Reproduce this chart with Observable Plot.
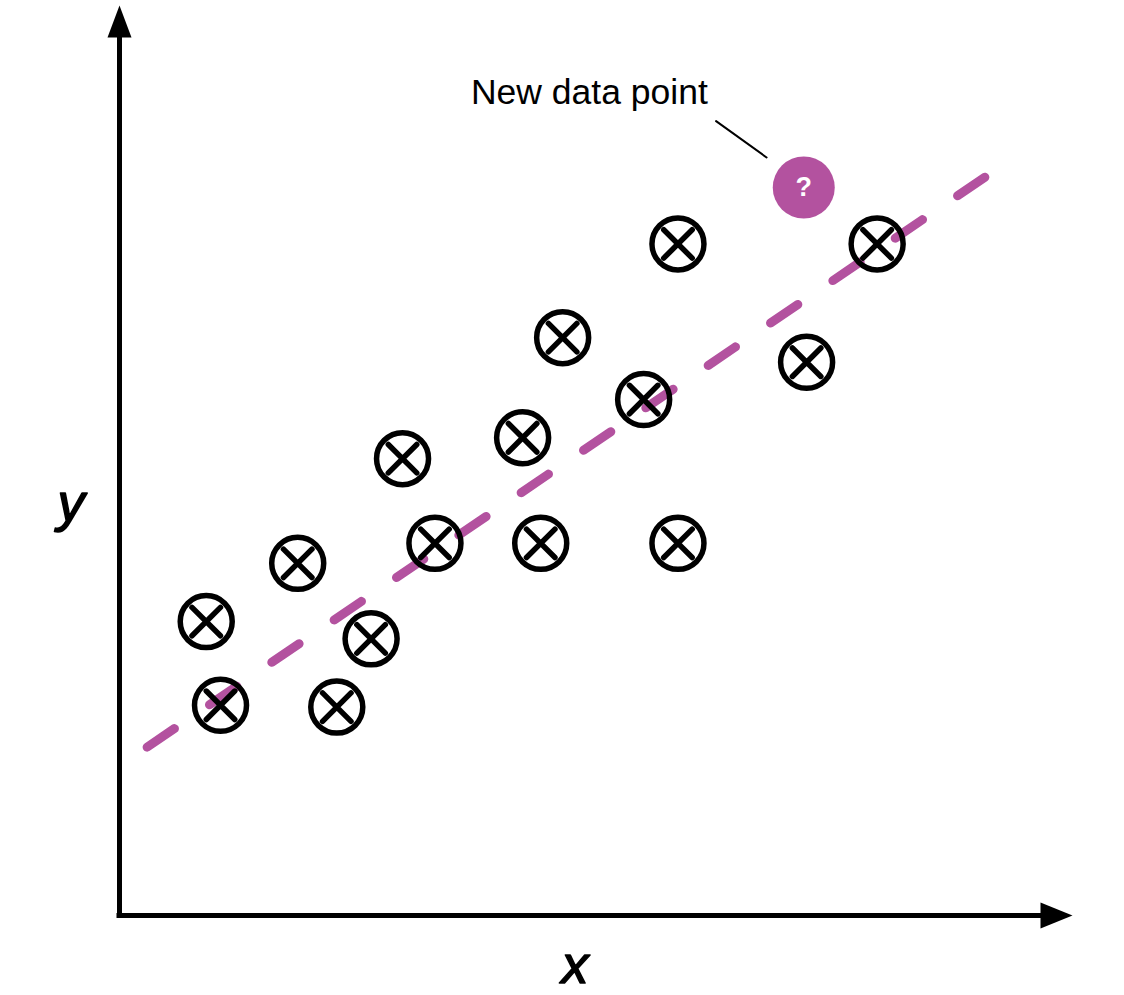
<!DOCTYPE html>
<html><head><meta charset="utf-8">
<script src="https://cdn.jsdelivr.net/npm/d3@7"></script>
<script src="https://cdn.jsdelivr.net/npm/@observablehq/plot@0.6"></script>
<style>html,body{margin:0;padding:0;background:#fff;} svg{display:block}</style>
</head><body><div id="chart"></div>
<script>
// observed data points
const pointX = [0.91, 1.06, 1.87, 2.28, 2.64, 2.97, 3.31, 4.23, 4.42, 4.65, 5.50, 5.86, 5.86, 7.21, 7.95];
const pointY = [3.23, 2.31, 3.87, 2.29, 3.04, 5.02, 4.09, 5.25, 4.09, 6.35, 5.67, 7.38, 4.09, 6.08, 7.38];
// new data point
const newPointX = [7.18];
const newPointY = [8.0];
const newPointLabel = ["?"];
// fitted regression line
const fitX = [0.29, 9.09];
const fitY = [1.85, 8.12];
// annotation
const annotationText = ["New data point"];
const annotationX = [4.93];
const annotationY = [8.92];
const leaderX = [6.26, 6.79];
const leaderY = [8.73, 8.33];
// axis labels
const axisLabelText = ["x", "y"];
const axisLabelX = [4.78, -0.51];
const axisLabelY = [-0.55, 4.52];
// axis extents
const axisMax = 10;

const magenta = "#b3529f";
const font = "'Liberation Sans', Arial, Helvetica, sans-serif";

const points = pointX.map((x, i) => ({x, y: pointY[i]}));
const newPoints = newPointX.map((x, i) => ({x, y: newPointY[i], label: newPointLabel[i]}));
const fit = fitX.map((x, i) => ({x, y: fitY[i]}));
const leader = leaderX.map((x, i) => ({x, y: leaderY[i]}));
const annotations = annotationText.map((t, i) => ({t, x: annotationX[i], y: annotationY[i]}));
const axisLabels = axisLabelText.map((t, i) => ({t, x: axisLabelX[i], y: axisLabelY[i]}));

const upHead = {draw(ctx) { ctx.moveTo(0, 0); ctx.lineTo(12, 32); ctx.lineTo(-12, 32); ctx.closePath(); }};
const rightHead = {draw(ctx) { ctx.moveTo(0, 0); ctx.lineTo(-32, 13); ctx.lineTo(-32, -13); ctx.closePath(); }};

const chart = Plot.plot({
  width: 1124,
  height: 995,
  marginLeft: 119,
  marginRight: 52,
  marginTop: 5,
  marginBottom: 80,
  x: {domain: [0, axisMax], axis: null},
  y: {domain: [0, axisMax], axis: null},
  style: {background: "#fff", overflow: "visible"},
  marks: [
    Plot.ruleX([0], {y1: 0, y2: axisMax * 0.98, stroke: "#000", strokeWidth: 5, strokeLinecap: "square"}),
    Plot.ruleY([0], {x1: 0, x2: axisMax * 0.98, stroke: "#000", strokeWidth: 5, strokeLinecap: "square"}),
    Plot.dot([{x: 0, y: axisMax}], {x: "x", y: "y", symbol: upHead, fill: "#000", stroke: "none", r: 10}),
    Plot.dot([{x: axisMax, y: 0}], {x: "x", y: "y", symbol: rightHead, fill: "#000", stroke: "none", r: 10}),
    Plot.line(fit, {x: "x", y: "y", stroke: magenta, strokeWidth: 9, strokeLinecap: "round", strokeDasharray: "33,42.4"}),
    Plot.dot(points, {x: "x", y: "y", r: 26, stroke: "#000", strokeWidth: 5.5, fill: "none"}),
    Plot.dot(points, {x: "x", y: "y", r: 13, symbol: "times", stroke: "#000", strokeWidth: 5.5, strokeLinecap: "round"}),
    Plot.dot(newPoints, {x: "x", y: "y", r: 31, fill: magenta, stroke: "none"}),
    Plot.text(newPoints, {x: "x", y: "y", text: "label", fill: "#fff", fontSize: 27, fontWeight: "bold", fontFamily: font}),
    Plot.line(leader, {x: "x", y: "y", stroke: "#000", strokeWidth: 2}),
    Plot.text(annotations, {x: "x", y: "y", text: "t", fontSize: 35.5, fontFamily: font, fill: "#000", lineAnchor: "bottom"}),
    Plot.text(axisLabels, {x: "x", y: "y", text: "t", fontSize: 54, fontFamily: font, fontStyle: "italic", fill: "#000", stroke: "#000", strokeWidth: 1.5})
  ]
});
document.getElementById("chart").appendChild(chart);
</script>
</body></html>
